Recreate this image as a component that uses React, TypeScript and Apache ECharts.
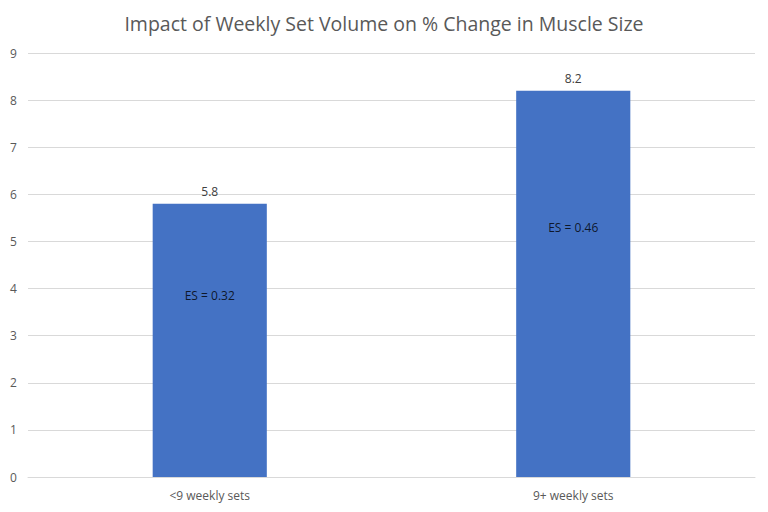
import { useEffect, useRef } from "react";
import * as echarts from "echarts";

const categories = ["<9 weekly sets", "9+ weekly sets"];
const muscleChange = [5.8, 8.2];
const esLabels = ["ES = 0.32", "ES = 0.46"];
const esLabelLevels = [3.85, 5.3];
const yTicks = { min: 0, max: 9, interval: 1 };

const FONT = "'Open Sans', 'Noto Sans', sans-serif";

export default function App() {
  const chartRef = useRef<HTMLDivElement>(null);

  useEffect(() => {
    if (!chartRef.current) return;
    const chart = echarts.init(chartRef.current, undefined, { renderer: "svg" });

    const option: echarts.EChartsOption = {
      animation: false,
      backgroundColor: "#ffffff",
      textStyle: { fontFamily: FONT },
      title: {
        text: "Impact of Weekly Set Volume on % Change in Muscle Size",
        left: "center",
        top: 8,
        textStyle: { fontFamily: FONT, fontSize: 19.5, fontWeight: "normal", color: "#595959" }
      },
      grid: { left: 28, right: 13, top: 53, bottom: 35 },
      xAxis: {
        type: "category",
        data: categories,
        axisLine: { lineStyle: { color: "#d9d9d9", width: 1 } },
        axisTick: { show: false },
        axisLabel: { color: "#595959", fontSize: 12, fontFamily: FONT, margin: 12 }
      },
      yAxis: {
        type: "value",
        min: yTicks.min,
        max: yTicks.max,
        interval: yTicks.interval,
        axisLine: { show: false },
        axisTick: { show: false },
        axisLabel: { color: "#595959", fontSize: 12, fontFamily: FONT, margin: 18, align: "left" },
        splitLine: { lineStyle: { color: "#d9d9d9", width: 1 } }
      },
      series: [
        {
          type: "bar",
          data: muscleChange,
          barWidth: "31.4%",
          itemStyle: { color: "#4472c4" },
          label: {
            show: true,
            position: "top",
            distance: 6,
            color: "#404040",
            fontSize: 12,
            fontFamily: FONT
          }
        },
        {
          type: "scatter",
          data: esLabelLevels,
          symbolSize: 0,
          silent: true,
          label: {
            show: true,
            position: "inside",
            color: "#000000",
            fontSize: 12,
            fontFamily: FONT,
            formatter: (p: any) => esLabels[p.dataIndex]
          }
        }
      ]
    };

    chart.setOption(option);
    return () => chart.dispose();
  }, []);

  return (
    <div
      ref={chartRef}
      style={{ position: "absolute", left: 0, top: 0, width: 768, height: 512 }}
    />
  );
}
